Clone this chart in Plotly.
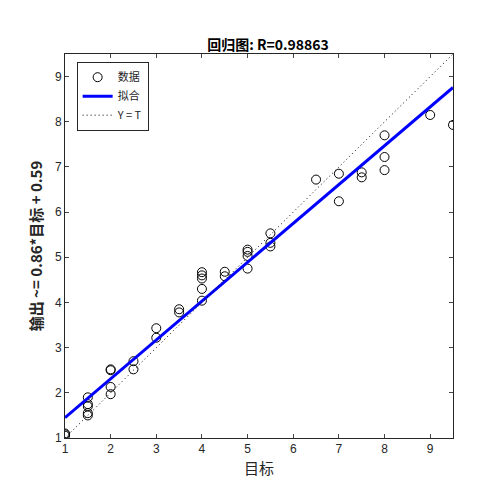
import numpy as np
import plotly.graph_objects as go

target = [1, 1, 1, 1.5, 1.5, 1.5, 1.5, 1.5, 2, 2, 2, 2, 2.5, 2.5, 3, 3, 3.5, 3.5,
          4, 4, 4, 4, 4, 4.5, 4.5, 5, 5, 5, 5, 5.5, 5.5, 5.5, 6.5, 7, 7, 7.5, 7.5,
          8, 8, 8, 9, 9.5]
output = [1.05, 1.08, 1.1, 1.9, 1.75, 1.7, 1.55, 1.5, 2.5, 2.52, 2.13, 1.97, 2.7, 2.52,
          3.43, 3.22, 3.85, 3.78, 4.67, 4.6, 4.53, 4.3, 4.04, 4.68, 4.58, 5.17, 5.12,
          5.03, 4.75, 5.53, 5.32, 5.24, 6.72, 6.85, 6.24, 6.88, 6.77, 7.7, 7.22, 6.93,
          8.15, 7.93]
slope, intercept = 0.86, 0.59
xline = [1, 9.5]

font = "Noto Sans CJK SC"
fig = go.Figure()
fig.add_trace(go.Scatter(x=target, y=output, mode="markers", name="数据",
                         marker=dict(symbol="circle-open", size=9, color="black",
                                     line=dict(width=1))))
fig.add_trace(go.Scatter(x=xline, y=[slope * v + intercept for v in xline], mode="lines",
                         name="拟合", line=dict(color="blue", width=3)))
fig.add_trace(go.Scatter(x=xline, y=xline, mode="lines", name="Y = T",
                         line=dict(color="black", width=1, dash="1px,3px")))

axis = dict(range=[1, 9.5], dtick=1, ticks="inside", ticklen=4, showgrid=False,
            zeroline=False, showline=True, linecolor="#262626", mirror="ticks",
            tickfont=dict(size=12, color="#262626", family="Liberation Sans"))
fig.update_xaxes(**axis, title=dict(text="目标", font=dict(size=15, color="#262626"),
                                    standoff=8))
fig.update_yaxes(**axis, title=dict(text="<b>输出 ~= 0.86*目标 + 0.59</b>",
                                    font=dict(size=15, color="#262626"), standoff=8))
fig.update_layout(
    width=500, height=500, plot_bgcolor="white", paper_bgcolor="white",
    font=dict(family=font),
    margin=dict(l=57, r=55, t=46, b=70, autoexpand=False),
    title=dict(text="<b>回归图: R=0.98863</b>", x=0.52, y=0.935, xanchor="center",
               font=dict(size=14, color="black")),
    legend=dict(x=0.03, y=0.98, bgcolor="white", bordercolor="#262626", borderwidth=1,
                font=dict(size=11, color="#262626"), tracegroupgap=0, itemwidth=30),
    showlegend=True,
)
fig.write_html("out.html")
